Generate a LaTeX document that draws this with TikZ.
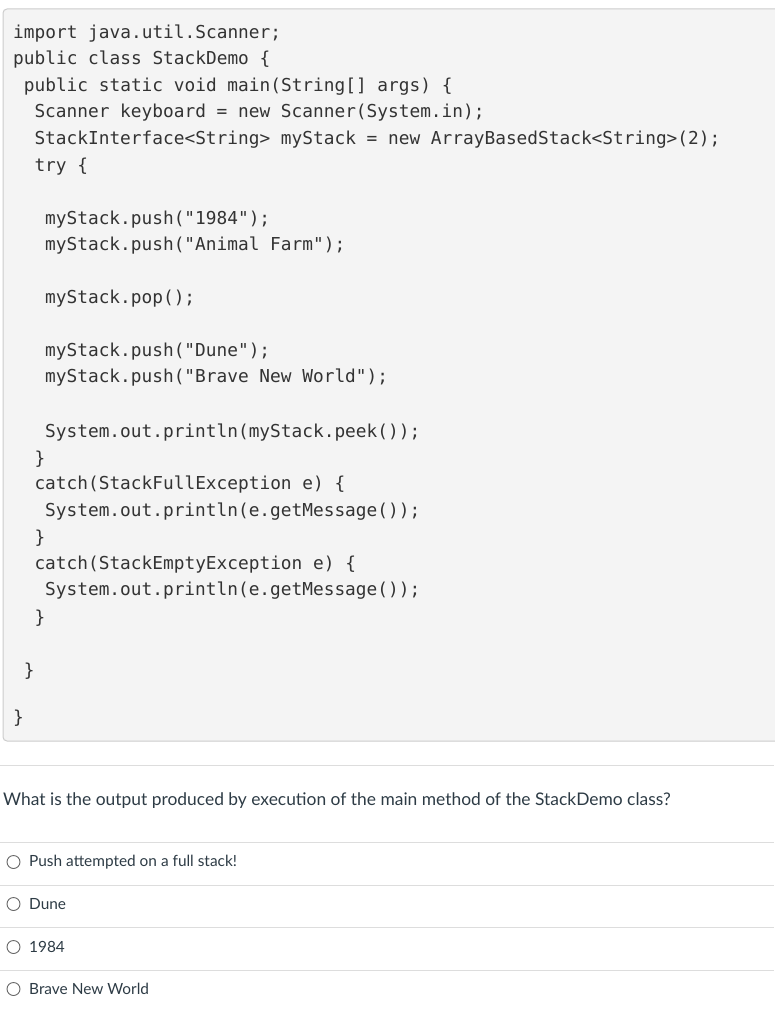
\documentclass[tikz,border=0pt]{standalone}
\usepackage{fontspec}
\setmainfont{Lato}
\newfontfamily\codefont{DejaVu Sans Mono}
\definecolor{codebg}{HTML}{F4F4F4}
\definecolor{codeborder}{HTML}{CCCCCC}
\definecolor{rule}{HTML}{DDDDDD}
\definecolor{txt}{HTML}{2D3B45}
\definecolor{codetxt}{HTML}{333333}
\begin{document}
\begin{tikzpicture}[x=1pt,y=-1pt,
  code/.style={anchor=west,inner sep=0pt,font=\codefont\fontsize{17.8}{20}\selectfont,text=codetxt},
  opt/.style={anchor=west,inner sep=0pt,font=\fontsize{15.4}{18}\selectfont,text=txt},
  radio/.style={draw=black!60,line width=0.9pt,circle,minimum size=13pt,inner sep=0pt},
  sep/.style={draw=rule,line width=1pt}]
\useasboundingbox (0,0) rectangle (774,1024);
\draw[fill=codebg,draw=codeborder,line width=1pt,rounded corners=4pt] (3,9) rectangle (780,741);
\def\cw{10.66}
\foreach \n/\ind/\y/\t in {
 l1/0/34/{import java.util.Scanner;},
 l2/0/60/{public class StackDemo \{},
 l3/1/87/{public static void main(String[] args) \{},
 l4/2/113/{Scanner keyboard = new Scanner(System.in);},
 l5/2/140/{StackInterface<String> myStack = new ArrayBasedStack<String>(2);},
 l6/2/167/{try \{},
 l7/3/220/{myStack.push("1984");},
 l8/3/246/{myStack.push("Animal Farm");},
 l9/3/299/{myStack.pop();},
 l10/3/352/{myStack.push("Dune");},
 l11/3/378/{myStack.push("Brave New World");},
 l12/3/433/{System.out.println(myStack.peek());},
 l13/2/459/{\}},
 l14/2/485/{catch(StackFullException e) \{},
 l15/3/512/{System.out.println(e.getMessage());},
 l16/2/538/{\}},
 l17/2/565/{catch(StackEmptyException e) \{},
 l18/3/591/{System.out.println(e.getMessage());},
 l19/2/618/{\}},
 l20/1/671/{\}},
 l21/0/718/{\}}}
 {\node[code] (\n) at ({13+\ind*\cw},\y) {\t};}
\draw[sep] (0,765) -- (774,765);
\node[anchor=west,inner sep=0pt,font=\fontsize{17.4}{20}\selectfont,text=txt] (q) at (3,801)
 {What is the output produced by execution of the main method of the StackDemo class?};
\foreach \yl in {842,885,927,970} {\draw[sep] (0,\yl) -- (774,\yl);}
\foreach \n/\y/\t in {a/862/{Push attempted on a full stack!},b/904/{Dune},c/947/{1984},d/989/{Brave New World}}
 {\node[radio] (r\n) at (13.5,\y) {};
  \node[opt] (o\n) at (29,\y) {\t};}
\end{tikzpicture}
\end{document}
